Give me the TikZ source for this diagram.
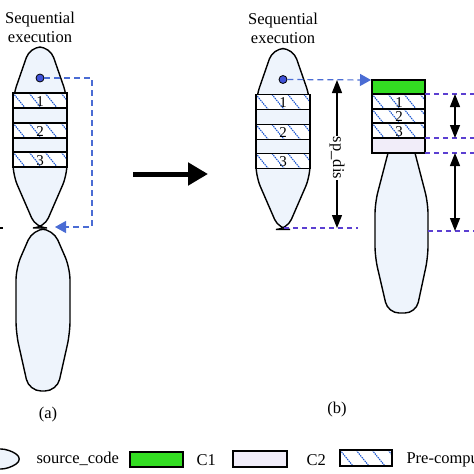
\documentclass[tikz,border=0pt]{standalone}
\usepackage{fontspec}
\setmainfont{Liberation Serif}
\usepackage{tikz}
\usetikzlibrary{calc,arrows.meta}
\definecolor{srcfill}{HTML}{EEF4FC}
\definecolor{cgreen}{HTML}{33DD22}
\definecolor{clav}{HTML}{F1EDF9}
\definecolor{flowblue}{HTML}{4A6CD4}
\definecolor{hatchblue}{HTML}{1A56D0}
\definecolor{dotblue}{HTML}{3F51D8}
\definecolor{levelpurple}{HTML}{5B3FD1}
\tikzset{
  outline/.style={draw=black, line width=1.4pt},
  srcshape/.style={outline, fill=srcfill, rounded corners=11pt},
  hatch/.style={draw=hatchblue, line width=1.1pt, dash pattern=on 1.4pt off 0.9pt},
  flow/.style={draw=flowblue, line width=1.2pt, dash pattern=on 6pt off 4pt, -{Triangle[length=11pt,width=12pt,fill=flowblue]}},
  dimline/.style={draw=black, line width=1.4pt, {Triangle[length=13pt,width=10pt]}-{Triangle[length=13pt,width=10pt]}},
  level/.style={draw=levelpurple, line width=1.2pt, dash pattern=on 5pt off 4pt},
  lab/.style={font=\fontsize{16.5}{19}\selectfont, align=center},
  digit/.style={font=\fontsize{15}{15}\selectfont, inner sep=0pt},
  pt/.style={circle, fill=dotblue, draw=black, line width=0.8pt, inner sep=0pt, minimum size=8pt},
}
\newcommand{\hatchbox}[4]{%
  \fill[white] (#1,#2) rectangle (#3,#4);
  \begin{scope}
    \clip (#1,#2) rectangle (#3,#4);
    \foreach \k in {-2,...,4}
      \draw[hatch] ($(#1,#2)+(\k*16,0)$) -- ++(26,32);
  \end{scope}}
\newcommand{\execpart}[3]{%
  \begin{scope}[shift={(#1,#2)}]
    \draw[srcshape] (13,96) -- (30,47) -- (50,47) -- (67,96) -- (67,175) -- (44,228) -- (36,228) -- (13,175) -- cycle;
    \foreach \ya/\yb/\d in {93/108/1,123/138/2,152/167/3} {
      \hatchbox{13}{\ya}{67}{\yb}
      \node[digit] at (40,{(\ya+\yb)/2+1}) {\d};
    }
    \draw[outline] (13,93) rectangle (67,167);
    \foreach \y in {108,123,138,152}
      \draw[outline] (13,\y) -- (67,\y);
    \node[pt] (#3) at (40,78) {};
  \end{scope}}

\begin{document}
\begin{tikzpicture}[x=1pt,y=-1pt]
  \useasboundingbox (0,0) rectangle (474,474);
  \clip (0,0) rectangle (474,474);

  % (a)
  \node[lab] (titlea) at (40,27) {Sequential\\execution};
  \draw[srcshape, rounded corners=12pt] (33,229) -- (53,229) -- (70,268) -- (70,333) -- (57,391) -- (29,391) -- (16,333) -- (16,268) -- cycle;
  \execpart{0}{0}{dota}
  \coordinate (necka) at (55,227);
  \draw[flow] (dota) -- (92,78) |- (necka);
  \fill (0,226.5) rectangle (3,229);
  \node[lab] (capa) at (48,415) {(a)};

  \draw[line width=5pt, -{Triangle[length=20pt,width=22pt]}] (133,174) -- (208,174);

  % (b)
  \node[lab] (titleb) at (283,28) {Sequential\\execution};
  \execpart{243}{1.5}{dotb}
  \draw[outline, fill=srcfill] (388,153) -- (415,153) [rounded corners=11pt] -- (428,203) -- (428,257) -- (416,313) -- (388,313) -- (375,257) -- (375,203) [sharp corners] -- cycle;
  \draw[outline, fill=cgreen] (372,80) rectangle (425,94);
  \foreach \ya/\yb/\d in {94/109/1,109/123/2,123/138/3} {
    \hatchbox{372}{\ya}{425}{\yb}
    \node[digit] at (399,{(\ya+\yb)/2+1}) {\d};
  }
  \draw[outline] (372,94) rectangle (425,138);
  \foreach \y in {109,123}
    \draw[outline] (372,\y) -- (425,\y);
  \draw[outline, fill=clav] (372,138) rectangle (425,153);
  \coordinate (cnw) at (371,80);
  \draw[flow] (dotb) -- (cnw);

  \coordinate (spt) at (337,80);
  \coordinate (spb) at (337,228);
  \draw[dimline] (spt) -- (spb);
  \node[lab, fill=white, rotate=-90, inner sep=1pt] (spdis) at (337,158) {sp\_dis};
  \draw[level] (284,228) -- (358,228);
  \foreach \y in {94,138,153}
    \draw[level] (425,\y) -- (474,\y);
  \draw[level] (428,231) -- (474,231);
  \draw[dimline] (455,94) -- (455,138);
  \draw[dimline] (455,153) -- (455,231);
  \node[lab] (capb) at (337,410) {(b)};

  % legend
  \draw[outline, fill=srcfill, rounded corners=8pt] (-30,449) -- (9,449) -- (23,459) -- (9,469) -- (-30,469) -- cycle;
  \node[lab, anchor=west] (lsrc) at (33,459) {source\_code};
  \draw[outline, fill=cgreen] (130,452) rectangle (183,467);
  \node[lab, anchor=west] (lcone) at (193,460) {C1};
  \draw[outline, fill=clav] (233,451) rectangle (287,467);
  \node[lab, anchor=west] (lctwo) at (303,460) {C2};
  \hatchbox{340}{450}{392}{466}
  \draw[outline] (340,450) rectangle (392,466);
  \node[lab, anchor=west] (lpre) at (403,460) {Pre-computation};
\end{tikzpicture}
\end{document}
